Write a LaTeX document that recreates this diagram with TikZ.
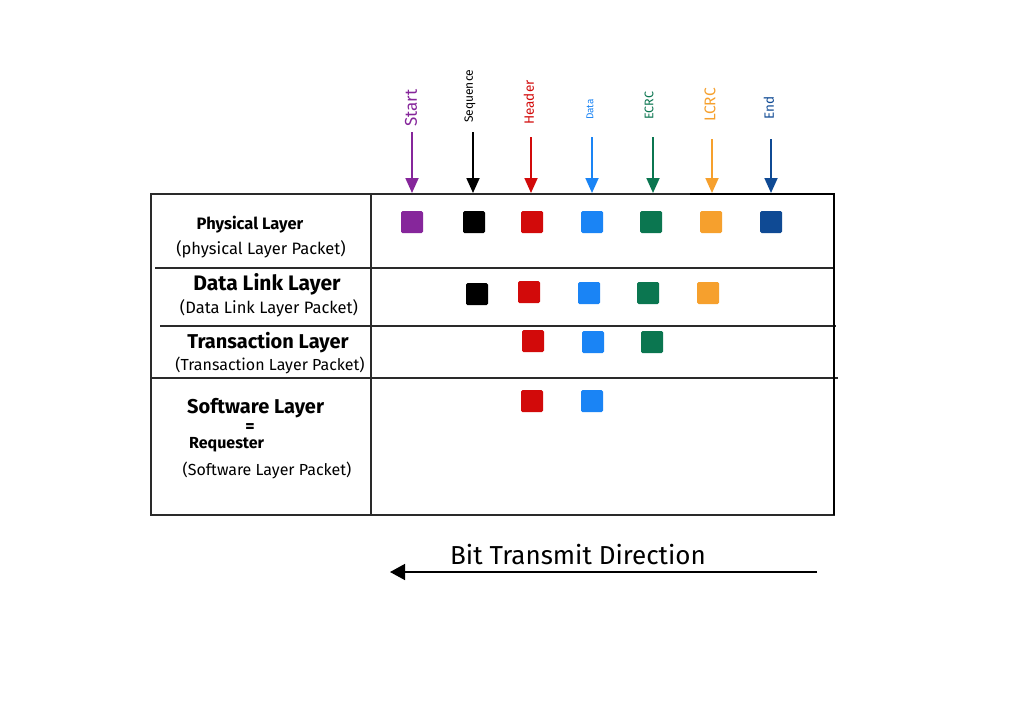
\documentclass[tikz,border=0pt]{standalone}
\usepackage{fontspec}
\setmainfont{Fira Sans}
\usetikzlibrary{arrows.meta}
\definecolor{cpurple}{HTML}{86269B}
\definecolor{cblack}{HTML}{000000}
\definecolor{cred}{HTML}{D20A0A}
\definecolor{cblue}{HTML}{1A84F5}
\definecolor{cgreen}{HTML}{0B7650}
\definecolor{corange}{HTML}{F6A02D}
\definecolor{cnavy}{HTML}{0F4A94}
\definecolor{tline}{HTML}{2A2A2A}
\newcommand{\fsz}[1]{\fontsize{#1}{#1}\selectfont}
\begin{document}
\begin{tikzpicture}[x=1pt,y=-1pt,
  sq/.style={minimum size=22pt, inner sep=0pt, rounded corners=1.5pt, fill=#1, draw=none},
  toplab/.style={rotate=90, anchor=west, inner sep=0pt, text=#1},
  downarr/.style={draw=#1, line width=1.8pt, -{Triangle[length=15pt,width=13pt,fill=#1]}},
  tl/.style={draw=tline, line width=1.6pt},
  mainlab/.style={inner sep=0pt, font=\bfseries},
  sublab/.style={inner sep=0pt}
]
\useasboundingbox (0,0) rectangle (1024,724);
\fill[white] (0,0) rectangle (1024,724);

% table
\draw[tl] (151,194) rectangle (834,515);
\draw[tl] (371,194) -- (371,515);
\draw[tl] (155,268) -- (834,268);
\draw[tl] (160,326) -- (836,326);
\draw[tl] (150,378) -- (838,378);
\draw[draw=black, line width=2.4pt] (690,194) -- (834,194) -- (834,515);

% top labels
\node[toplab=cpurple, font=\fsz{17}] (lstart) at (411,127) {Start};
\node[toplab=cblack, font=\fsz{12}]  (lseq)   at (470,123) {Sequence};
\node[toplab=cred, font=\fsz{13.5}]  (lhead)  at (529,125) {Header};
\node[toplab=cblue, font=\fsz{10}]   (ldata)  at (590,120) {Data};
\node[toplab=cgreen, font=\fsz{12.5}] (lecrc) at (649,120) {ECRC};
\node[toplab=corange, font=\fsz{15.5}] (llcrc) at (710,122) {LCRC};
\node[toplab=cnavy, font=\fsz{13.5}] (lend)   at (769,120) {End};

% arrows
\coordinate (as1) at (412,132); \coordinate (at1) at (412,193);
\coordinate (as2) at (473,132); \coordinate (at2) at (473,193);
\coordinate (as3) at (531,137); \coordinate (at3) at (531,193);
\coordinate (as4) at (592,137); \coordinate (at4) at (592,193);
\coordinate (as5) at (653,137); \coordinate (at5) at (653,193);
\coordinate (as6) at (712,139); \coordinate (at6) at (712,193);
\coordinate (as7) at (771,139); \coordinate (at7) at (771,193);
\draw[downarr=cpurple] (as1) -- (at1);
\draw[downarr=cblack]  (as2) -- (at2);
\draw[downarr=cred]    (as3) -- (at3);
\draw[downarr=cblue]   (as4) -- (at4);
\draw[downarr=cgreen]  (as5) -- (at5);
\draw[downarr=corange] (as6) -- (at6);
\draw[downarr=cnavy]   (as7) -- (at7);

% row 1
\node[sq=cpurple] (p1) at (412,222) {};
\node[sq=cblack]  (p2) at (474,222) {};
\node[sq=cred]    (p3) at (532,222) {};
\node[sq=cblue]   (p4) at (592,222) {};
\node[sq=cgreen]  (p5) at (651,222) {};
\node[sq=corange] (p6) at (711,222) {};
\node[sq=cnavy]   (p7) at (771,222) {};
% row 2
\node[sq=cblack]  (d2) at (477,294) {};
\node[sq=cred]    (d3) at (529,292) {};
\node[sq=cblue]   (d4) at (589,293) {};
\node[sq=cgreen]  (d5) at (648,293) {};
\node[sq=corange] (d6) at (708,293) {};
% row 3
\node[sq=cred]    (t3) at (533,341) {};
\node[sq=cblue]   (t4) at (593,342) {};
\node[sq=cgreen]  (t5) at (652,342) {};
% row 4
\node[sq=cred]    (s3) at (532,401) {};
\node[sq=cblue]   (s4) at (592,401) {};

% left labels
\node[mainlab, font=\bfseries\fsz{16.5}] (phy)  at (250,225) {Physical Layer};
\node[sublab, font=\fsz{16.5}]  (phys) at (261,249) {(physical Layer Packet)};
\node[mainlab, font=\bfseries\fsz{21}] (dll)  at (267,284) {Data Link Layer};
\node[sublab, font=\fsz{16.5}]  (dlls) at (269,308) {(Data Link Layer Packet)};
\node[mainlab, font=\bfseries\fsz{20}] (tl1)  at (268,343) {Transaction Layer};
\node[sublab, font=\fsz{16}]  (tls)  at (270,365) {(Transaction Layer Packet)};
\node[mainlab, font=\bfseries\fsz{20}, anchor=west] (sw)  at (187,408) {Software Layer};
\node[mainlab, font=\bfseries\fsz{18}] (eq)   at (250,428) {=};
\node[mainlab, font=\bfseries\fsz{16}, anchor=west] (req) at (189,445) {Requester};
\node[sublab, font=\fsz{16}]  (sws)  at (267,470) {(Software Layer Packet)};

% bottom
\node[inner sep=0pt, font=\fsz{26}] (bit) at (578,555) {Bit Transmit Direction};
\coordinate (bs) at (817,572);
\coordinate (be) at (390,572);
\draw[line width=1.5pt, -{Triangle[length=15pt,width=16pt]}] (bs) -- (be);
\end{tikzpicture}
\end{document}
